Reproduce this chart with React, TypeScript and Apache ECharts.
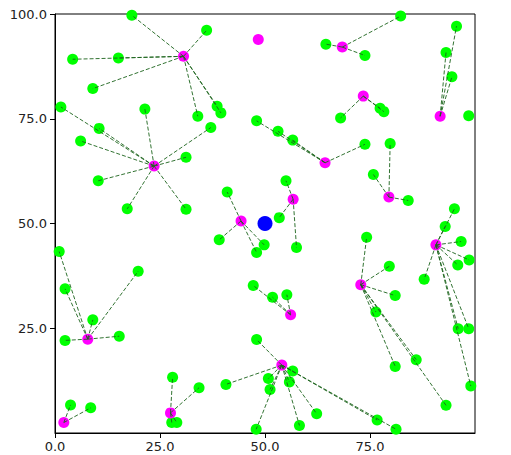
import React, { useEffect, useRef } from "react";
import * as echarts from "echarts";

// Magenta centres
const centerX = [30.6, 48.4, 68.4, 91.7, 73.4, 23.6, 64.3, 44.3, 56.7, 79.5, 90.7, 72.8, 56.1, 7.8, 54.0, 27.5, 2.1];
const centerY = [89.9, 93.9, 92.1, 75.6, 80.4, 63.7, 64.5, 50.6, 55.8, 56.3, 44.9, 35.4, 28.2, 22.4, 16.2, 4.8, 2.5];

// Green points and the index of the centre each one links to (-1: no link)
const pointX = [
  18.3, 4.2, 15.1, 9.0, 36.1, 34.0, 38.6, 39.5,
  1.4, 21.4, 10.5, 6.1, 37.1, 31.2, 10.3, 17.2, 31.2,
  64.5, 82.3, 73.8,
  95.6, 93.1, 94.5,
  68.0, 77.4, 78.3,
  48.0, 53.1, 56.6, 73.8,
  41.0, 39.1, 49.8, 48.0,
  55.0, 53.4, 57.5,
  79.8, 75.8, 84.1,
  95.1, 92.9, 96.7, 98.6, 95.9, 87.9, 96.0, 98.5, 99.0,
  74.2, 79.6, 81.0, 76.4, 81.0, 86.0, 93.1,
  47.2, 51.8, 55.2,
  1.0, 2.4, 19.8, 2.4, 9.0, 15.3,
  48.0, 40.7, 50.8, 51.2, 56.6, 55.8, 47.9, 58.2, 62.3, 76.7, 81.2,
  28.0, 34.3, 27.8, 29.0,
  3.7, 8.5,
  98.5,
];
const pointY = [
  99.7, 89.2, 89.5, 82.2, 96.1, 75.6, 78.0, 76.4,
  77.8, 77.3, 72.7, 69.7, 72.9, 65.8, 60.2, 53.5, 53.4,
  92.8, 99.5, 90.1,
  97.1, 90.8, 85.0,
  75.2, 77.5, 76.7,
  74.5, 72.0, 69.9, 68.9,
  57.5, 46.1, 44.9, 43.1,
  60.2, 51.4, 44.3,
  69.1, 61.7, 55.5,
  53.5, 49.3, 45.7, 41.3, 40.1, 36.7, 24.9, 24.9, 11.2,
  46.7, 39.8, 32.8, 28.9, 15.9, 17.5, 6.6,
  35.2, 32.4, 33.0,
  43.3, 34.4, 38.6, 22.1, 27.0, 23.1,
  22.3, 11.6, 13.0, 10.4, 14.8, 12.2, 0.9, 1.8, 4.6, 3.1, 0.9,
  13.3, 10.8, 2.5, 2.5,
  6.7, 6.0,
  75.7,
];
const pointLink = [
  0, 0, 0, 0, 0, 0, 0, 0,
  5, 5, 5, 5, 5, 5, 5, 5, 5,
  2, 2, 2,
  3, 3, 3,
  4, 4, 4,
  6, 6, 6, 6,
  7, 7, 7, 7,
  8, 8, 8,
  9, 9, 9,
  10, 10, 10, 10, 10, 10, 10, 10, 10,
  11, 11, 11, 11, 11, 11, 11,
  12, 12, 12,
  13, 13, 13, 13, 13, 13,
  14, 14, 14, 14, 14, 14, 14, 14, 14, 14, 14,
  15, 15, 15, 15,
  16, 16,
  -1,
];

// Blue base
const baseX = [50.0];
const baseY = [50.0];

const xTicks = [0, 25, 50, 75];
const yTicks = [25, 50, 75, 100];

export default function App() {
  const ref = useRef<HTMLDivElement>(null);
  useEffect(() => {
    if (!ref.current) return;
    const chart = echarts.init(ref.current, null, { renderer: "svg" });
    const greenData = pointX.map((x, i) => [x, pointY[i]]);
    const magentaData = centerX.map((x, i) => [x, centerY[i]]);
    const blueData = baseX.map((x, i) => [x, baseY[i]]);
    const linkData = pointX
      .map((x, i) => ({ i, x }))
      .filter((p) => pointLink[p.i] >= 0)
      .map((p) => ({
        coords: [
          [centerX[pointLink[p.i]], centerY[pointLink[p.i]]],
          [p.x, pointY[p.i]],
        ],
      }));
    const labelStyle = {
      fontFamily: "DejaVu Sans",
      fontSize: 13,
      color: "#222",
    };
    chart.setOption({
      animation: false,
      grid: {
        left: 55,
        top: 14,
        width: 420,
        height: 419,
        show: true,
        borderColor: "#000",
        borderWidth: 1,
        backgroundColor: "#fff",
      },
      xAxis: {
        type: "value",
        min: 0,
        max: 100,
        interval: 25,
        axisLine: { show: true, lineStyle: { color: "#000", width: 1 } },
        axisTick: { show: true, inside: false, length: 5, lineStyle: { color: "#000" } },
        splitLine: { show: false },
        axisLabel: {
          ...labelStyle,
          margin: 7,
          showMaxLabel: false,
          formatter: (v: number) => (xTicks.includes(v) ? v.toFixed(1) : ""),
        },
      },
      yAxis: {
        type: "value",
        min: 0,
        max: 100,
        interval: 25,
        axisLine: { show: true, lineStyle: { color: "#000", width: 1 } },
        axisTick: { show: true, inside: false, length: 5, lineStyle: { color: "#000" } },
        splitLine: { show: false },
        axisLabel: {
          ...labelStyle,
          margin: 8,
          showMinLabel: false,
          formatter: (v: number) => (yTicks.includes(v) ? v.toFixed(1) : ""),
        },
      },
      series: [
        {
          type: "scatter",
          data: greenData,
          symbolSize: 11,
          itemStyle: { color: "#00ff00", opacity: 1 },
          z: 2,
        },
        {
          type: "scatter",
          data: magentaData,
          symbolSize: 11,
          itemStyle: { color: "#ff00ff", opacity: 1 },
          z: 3,
        },
        {
          type: "scatter",
          data: blueData,
          symbolSize: 15,
          itemStyle: { color: "#0000ff", opacity: 1 },
          z: 3,
        },
        {
          type: "lines",
          coordinateSystem: "cartesian2d",
          data: linkData,
          polyline: false,
          silent: true,
          lineStyle: {
            color: "#1c641c",
            width: 1,
            type: [4, 2],
            opacity: 0.9,
            curveness: 0,
          },
          z: 4,
        },
      ],
    });
    return () => chart.dispose();
  }, []);
  return (
    <div
      ref={ref}
      style={{ position: "fixed", left: 0, top: 0, width: 511, height: 455, background: "#fff" }}
    />
  );
}
